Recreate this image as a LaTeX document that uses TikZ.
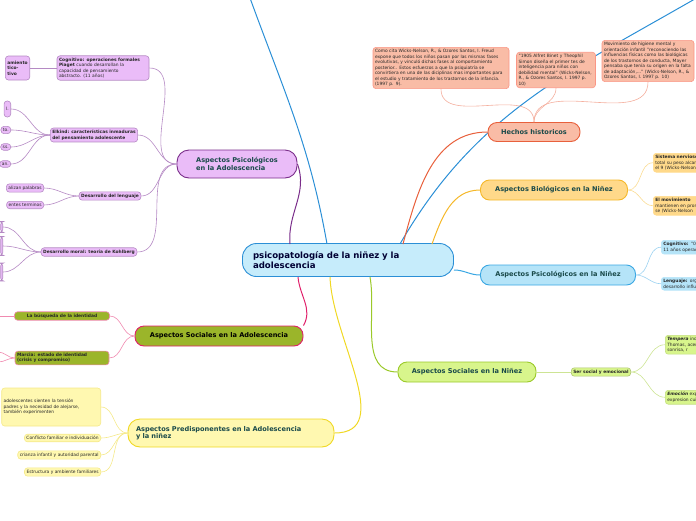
\documentclass[tikz,border=0pt]{standalone}
\usepackage{fontspec}
\setmainfont{DejaVu Sans}
\newcommand\nohyph{\hyphenpenalty=10000\relax}
\definecolor{cb}{HTML}{C6ECFB}\definecolor{cbd}{HTML}{2B8FD6}
\definecolor{ho}{HTML}{F9BCA6}\definecolor{hod}{HTML}{E8603C}
\definecolor{yb}{HTML}{FFD98A}\definecolor{ybd}{HTML}{F5B82A}
\definecolor{lb}{HTML}{B5E4F8}\definecolor{lbd}{HTML}{3AA7E3}
\definecolor{gn}{HTML}{D8F58C}\definecolor{gnd}{HTML}{9BC92A}
\definecolor{pu}{HTML}{EABCF8}\definecolor{pud}{HTML}{7A2D8A}\definecolor{pul}{HTML}{B58AC4}
\definecolor{ol}{HTML}{9BB52A}\definecolor{pk}{HTML}{E0206A}\definecolor{pkl}{HTML}{F08AB0}
\definecolor{ly}{HTML}{FFF8B0}\definecolor{lyd}{HTML}{F0D824}\definecolor{lyl}{HTML}{F5E98A}
\definecolor{tx}{HTML}{1A4A4A}
\tikzset{
 box/.style={draw,line width=0.6pt,rounded corners=3pt,inner sep=2pt,align=left,font=\fontsize{4.4}{5.5}\selectfont\nohyph,text=black!85},
 main/.style={draw,line width=0.9pt,rounded corners=9pt,inner sep=3pt,align=left,font=\bfseries\fontsize{6.6}{7.6}\selectfont,text=tx},
 conn/.style={line width=0.6pt},
}
\begin{document}
\begin{tikzpicture}[x=1pt,y=-1pt]
\useasboundingbox (0,0) rectangle (696,520);
\coordinate (t1) at (250,-2); \coordinate (t2) at (700,-4);
\coordinate (c1) at (327,244); \coordinate (c2) at (400,244);
\draw[cbd,line width=1pt] (c1) to[out=100,in=-70] (t1);
\draw[cbd,line width=1pt] (c2) to[out=60,in=-150] (t2);
% central
\node[main,fill=cb,draw=cbd,minimum width=211,minimum height=33,rounded corners=14pt,font=\bfseries\fontsize{8.6}{9.6}\selectfont,text=black!80!blue,text width=190] (c) at (348,260) {psicopatología de la niñez y la\\adolescencia};
% Hechos
\node[main,fill=ho,draw=hod,minimum width=92,minimum height=19,align=center] (h) at (534,132) {Hechos historicos};
\node[box,fill=ho,draw=ho!80!red,text width=132] (h1) at (441,68) {Como cita Wicks-Nelson, R., \& Ozores Santos, I. Freud expone que todos los niños pasan por las mismas fases evolutivas, y vinculó dichas fases al comportamiento posterior.. Estos esfuerzos a que la psiquiatría se convirtiera en una de las diciplinas mas importantes para el estudio y tratamiento de los trastornos de la infancia. (1997 p. 9).};
\node[box,fill=ho,draw=ho!80!red,text width=75] (h2) at (556,70) {"1905 Alfret Binet y Theophil Simon diseña el primer tes de inteligencia para niños con debilidad mental" (Wicks-Nelson, R., \& Ozores Santos, I. 1997 p. 10)};
\node[box,fill=ho,draw=ho!80!red,text width=88] (h3) at (648,61) {Movimiento de higiene mental y orientación infantil "reconociendo las influencias físicas como las biológicas de los trastornos de conducta, Mayer pensaba que tenía su origen en la falta de adaptación,..." (Wicks-Nelson, R., \& Ozores Santos, I. 1997 p. 10)};
\foreach \n in {h1,h2,h3} \draw[conn,hod!50] (h.north) to[out=90,in=-90] (\n.south);
\draw[hod,line width=1pt] (403,244) to[out=75,in=180] (h.west);
% Biologicos
\node[main,fill=yb,draw=ybd,minimum width=147,minimum height=20] (b) at (554,190) {Aspectos Biológicos en la Niñez};
\node[box,fill=yb,draw=yb,text width=60,anchor=north west] (b1) at (653,153) {\textbf{Sistema nervioso} del total su peso alcanzado el 9 (Wicks-Nelson 19)};
\node[box,fill=yb,draw=yb,text width=60,anchor=north west] (b2) at (653,196) {\textbf{El movimiento} mantienen en pronto , o se (Wicks-Nelson};
\draw[ybd,line width=1pt] (432,244) to[out=70,in=180] (b.west);
\foreach \n in {b1,b2} \draw[conn,ybd!50] (b.east) to[out=0,in=180] (\n.west);
% Psico ninez
\node[main,fill=lb,draw=lbd,minimum width=155,minimum height=20] (p) at (558,275) {Aspectos Psicológicos en la Niñez};
\node[box,fill=lb,draw=lb,text width=60,anchor=north west] (p1) at (661,240) {\textbf{Cognitivo:} "0-2 años s 7-11 años operación f};
\node[box,fill=lb,draw=lb,text width=60,anchor=north west] (p2) at (661,277) {\textbf{Lenguaje:} organizado desarrollo influencias};
\draw[lbd,line width=1pt] (454,270) to[out=0,in=180] (p.west);
\foreach \n in {p1,p2} \draw[conn,lbd!50] (p.east) to[out=0,in=180] (\n.west);
% Sociales ninez
\node[main,fill=gn,draw=gnd,minimum width=138,minimum height=20] (s) at (467,372) {Aspectos Sociales en la Niñez};
\node[box,fill=gn,draw=gn!80!black,font=\bfseries\fontsize{4.4}{5.5}\selectfont] (s0) at (601,372) {Ser social y emocional};
\node[box,fill=gn,draw=gnd!60,text width=60,anchor=north west] (s1) at (665,335) {\textbf{\itshape Tempera} individual Thomas, acercamie sonrisa, r};
\node[box,fill=gn,draw=gnd!60,text width=60,anchor=north west] (s2) at (665,390) {\textbf{\itshape Emoción} expresion expresion cuidan (H};
\draw[gnd,line width=1pt] (370,277) to[out=-80,in=180] (s.west);
\draw[conn,gnd!50] (s.east) -- (s0.west);
\foreach \n in {s1,s2} \draw[conn,gnd!50] (s0.east) to[out=0,in=180] (\n.west);
% Psico adolescencia
\node[main,fill=pu,draw=pud,minimum width=120,minimum height=28,rounded corners=12pt] (pa) at (237,164) {Aspectos Psicológicos\\en la Adolescencia};
\node[box,fill=pu,draw=pul,text width=88] (pa1) at (103,68) {\textbf{Cognitivo: operaciones formales Piaget} cuando desarrollan la capacidad de pensamiento\\abstracto. (11 años)};
\node[box,fill=pu,draw=pul,anchor=east,font=\bfseries\fontsize{4.4}{5.5}\selectfont,minimum height=24] (pa1a) at (30,68) {amiento\\tico-\\tivo};
\node[box,fill=pu,draw=pul,font=\bfseries\fontsize{4.4}{5.5}\selectfont] (pa2) at (94,135) {Elkind: características inmaduras\\del pensamiento adolescente};
\node[box,fill=pu,draw=pul,anchor=east,minimum height=16] (e1) at (11,109) {l.};
\node[box,fill=pu,draw=pul,anchor=east] (e2) at (11,130) {to.};
\node[box,fill=pu,draw=pul,anchor=east] (e3) at (11,147) {ss.};
\node[box,fill=pu,draw=pul,anchor=east] (e4) at (11,164) {an.};
\node[box,fill=pu,draw=pul,font=\bfseries\fontsize{4.4}{5.5}\selectfont] (pa3) at (110,196) {Desarrollo del lenguaje};
\node[box,fill=pu,draw=pul,anchor=east] (l1) at (44,188) {alizan palabras};
\node[box,fill=pu,draw=pul,anchor=east] (l2) at (44,205) {entes terminos};
\node[box,fill=pu,draw=pul,font=\bfseries\fontsize{4.4}{5.5}\selectfont] (pa4) at (89,252) {Desarrollo moral: teoría de Kohlberg};
\node[box,fill=pu,draw=pul,anchor=east,minimum height=11,inner sep=1pt] (k1) at (3,227) {};
\node[box,fill=pu,draw=pul,anchor=east,minimum height=19,inner sep=1pt] (k2) at (3,246) {};
\node[box,fill=pu,draw=pul,anchor=east,minimum height=18,inner sep=1pt] (k3) at (3,272) {};
\draw[pud,line width=1pt] (290,244) to[out=95,in=-70] (pa.east);
\foreach \n in {pa1,pa2,pa3,pa4} \draw[conn,pul] (pa.west) to[out=180,in=0] (\n.east);
\draw[conn,pul] (pa1.west) -- (pa1a.east);
\foreach \n in {e1,e2,e3,e4} \draw[conn,pul] (pa2.west) to[out=180,in=0] (\n.east);
\foreach \n in {l1,l2} \draw[conn,pul] (pa3.west) to[out=180,in=0] (\n.east);
\foreach \n in {k1,k2,k3} \draw[conn,pul] (pa4.west) to[out=180,in=0] (\n.east);
% Sociales adolescencia
\node[main,fill=ol,draw=pk,minimum width=168,minimum height=20,text=black] (sa) at (219,336) {Aspectos Sociales en la Adolescencia};
\node[box,fill=ol,draw=pkl,font=\bfseries\fontsize{4.4}{5.5}\selectfont,minimum width=95] (sa1) at (62,316) {La búsqueda de la identidad};
\node[box,fill=ol,draw=pkl,font=\bfseries\fontsize{4.4}{5.5}\selectfont,text width=90] (sa2) at (62,358) {Marcia: estado de identidad\\(crisis y compromiso)};
\coordinate (z1) at (-2,316); \coordinate (z2) at (-2,352); \coordinate (z3) at (-2,362);
\draw[pk,line width=1pt] (298,277) to[out=-85,in=60] (sa.north east);
\foreach \n in {sa1,sa2} \draw[conn,pkl] (sa.west) to[out=180,in=0] (\n.east);
\draw[conn,pkl] (sa1.west) -- (z1);
\draw[conn,pkl] (sa2.west) to[out=180,in=0] (z2);
\draw[conn,pkl] (sa2.west) to[out=180,in=0] (z3);
% Predisponentes
\node[main,fill=ly,draw=lyd,minimum width=206,minimum height=28,rounded corners=12pt,text width=190] (pr) at (231,433) {Aspectos Predisponentes en la Adolescencia\\y la niñez};
\node[box,fill=ly,draw=lyl,anchor=east,text width=95,minimum height=38] (r1) at (101,407) {adolescentes sienten la tensión\\ padres y la necesidad de alejarse,\\también experimenten};
\node[box,fill=ly,draw=lyl,anchor=east] (r2) at (101,438) {Conflicto familiar e individuación};
\node[box,fill=ly,draw=lyl,anchor=east] (r3) at (101,455) {crianza infantil y autoridad parental};
\node[box,fill=ly,draw=lyl,anchor=east] (r4) at (101,472) {Estructura y ambiente familiares};
\draw[lyd,line width=1pt] (330,277) to[out=-88,in=0] (pr.east);
\foreach \n in {r1,r2,r3,r4} \draw[conn,lyl] (pr.west) to[out=180,in=0] (\n.east);
\end{tikzpicture}
\end{document}
